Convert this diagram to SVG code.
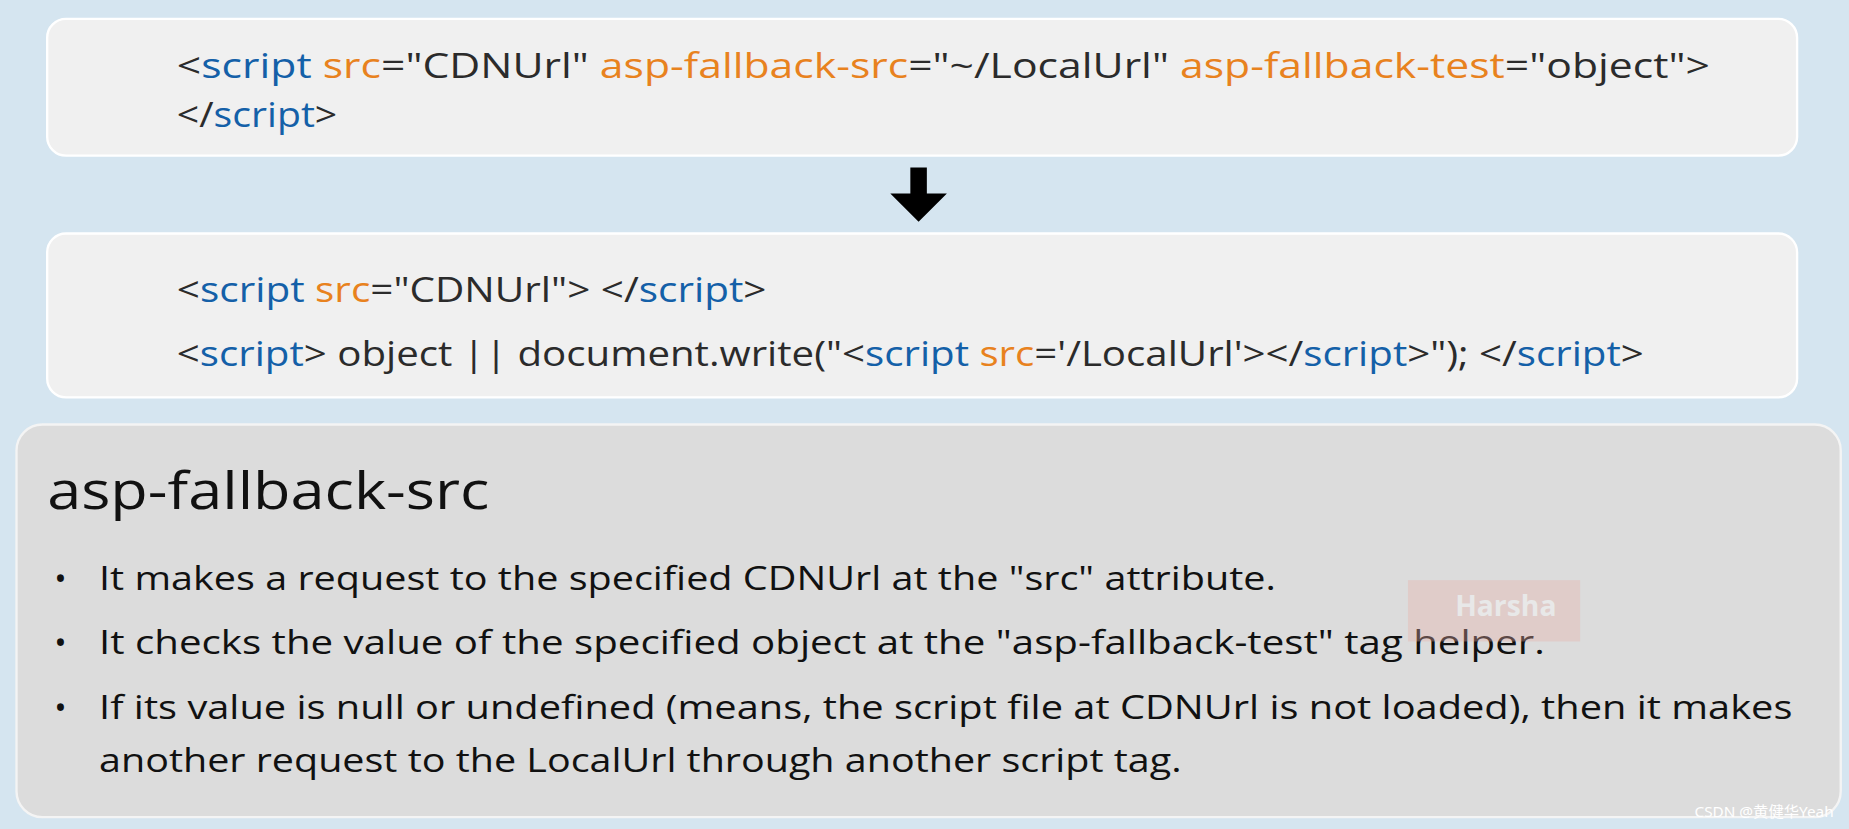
<svg xmlns="http://www.w3.org/2000/svg" width="1849" height="829" viewBox="0 0 1849 829">
<style>
.box{fill:#f0f0f0;stroke:#ffffff;stroke-width:2}
.code{font-family:"Open Sans","Noto Sans",sans-serif;font-size:30px;fill:#2b2b2b}
.b{fill:#1460a8}.o{fill:#e8821e}
.body{font-family:"Open Sans","Noto Sans",sans-serif;font-size:28px;fill:#111}
</style>
<rect width="1849" height="829" fill="#d5e5f0"/>
<g transform="scale(1.1792)">
<g id="box1">
<rect class="box" x="40" y="16" width="1484" height="116" rx="16"/>
<text class="code" x="150" y="66" textLength="1300" lengthAdjust="spacingAndGlyphs">&lt;<tspan class="b">script</tspan> <tspan class="o">src</tspan>="CDNUrl"  <tspan class="o">asp-fallback-src</tspan>="~/LocalUrl" <tspan class="o">asp-fallback-test</tspan>="object"&gt;</text>
<text class="code" x="150" y="108" textLength="136" lengthAdjust="spacingAndGlyphs">&lt;/<tspan class="b">script</tspan>&gt;</text>
</g>
<g id="connectors">
<path d="M772,142 H786 V164 H803 L779,188 L755,164 H772 Z" fill="#000"/>
</g>
<g id="box2">
<rect class="box" x="40" y="198" width="1484" height="139" rx="16"/>
<text class="code" x="150" y="256" textLength="500" lengthAdjust="spacingAndGlyphs">&lt;<tspan class="b">script</tspan> <tspan class="o">src</tspan>="CDNUrl"&gt; &lt;/<tspan class="b">script</tspan>&gt;</text>
<text class="code" x="150" y="310" textLength="1244" lengthAdjust="spacingAndGlyphs">&lt;<tspan class="b">script</tspan>&gt; object || document.write("&lt;<tspan class="b">script</tspan> <tspan class="o">src</tspan>='/LocalUrl'&gt;&lt;/<tspan class="b">script</tspan>&gt;"); &lt;/<tspan class="b">script</tspan>&gt;</text>
</g>
<g id="box3">
<rect x="14" y="360" width="1547" height="333" rx="22" fill="#dcdcdc" stroke="#f4f4f4" stroke-width="2"/>
<text x="40" y="432" font-family="Open Sans,Noto Sans,sans-serif" font-size="44" fill="#111" textLength="375" lengthAdjust="spacingAndGlyphs">asp-fallback-src</text>
<g class="body">
<text x="46" y="500">•</text>
<text x="84" y="500" textLength="998" lengthAdjust="spacingAndGlyphs">It makes a request to the specified CDNUrl at the "src" attribute.</text>
<text x="46" y="555">•</text>
<text x="84" y="555" textLength="1226" lengthAdjust="spacingAndGlyphs">It checks the value of the specified object at the "asp-fallback-test" tag helper.</text>
<text x="46" y="610">•</text>
<text x="84" y="610" textLength="1436" lengthAdjust="spacingAndGlyphs">If its value is null or undefined (means, the script file at CDNUrl is not loaded), then it makes</text>
<text x="84" y="655" textLength="918" lengthAdjust="spacingAndGlyphs">another request to the LocalUrl through another script tag.</text>
</g>
<g opacity="0.35">
<rect x="1194" y="492" width="146" height="52" fill="#e8b0a8"/>
<text x="1234" y="522" font-family="Open Sans,sans-serif" font-weight="bold" font-size="24" fill="#fff">Harsha</text>
</g>
<text x="1555" y="693" text-anchor="end" font-family="Noto Sans,Noto Sans CJK SC,sans-serif" font-size="13" fill="#fff">CSDN @黄健华Yeah</text>
</g>
</g>
</svg>
